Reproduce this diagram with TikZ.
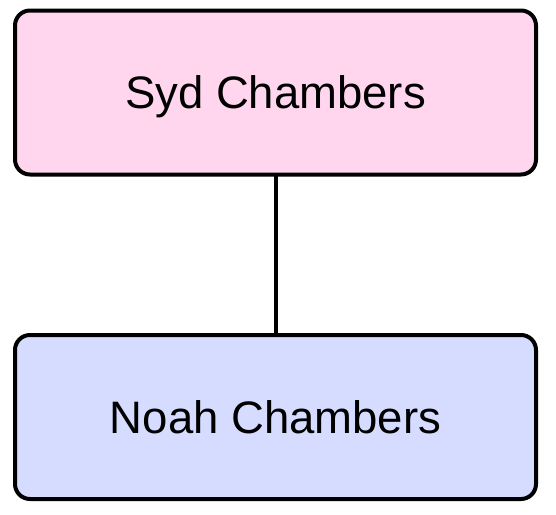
\documentclass[tikz,border=0pt]{standalone}
\usepackage{fontspec}
\setmainfont{Liberation Sans}
\definecolor{pinkfill}{RGB}{255,214,238}
\definecolor{bluefill}{RGB}{214,220,255}
\begin{document}
\begin{tikzpicture}[x=1pt,y=-1pt,
  person/.style={draw=black, line width=4pt, rounded corners=15pt,
    minimum width=521pt, minimum height=164pt, inner sep=0pt, outer sep=0pt,
    text height=32.6pt, text depth=0pt,
    font=\fontsize{45.5}{54}\selectfont},
  link/.style={draw=black, line width=4pt}]
\useasboundingbox (0,0) rectangle (556,514);
\node[person, fill=pinkfill] (syd) at (275.5,92.5) {Syd Chambers};
\node[person, fill=bluefill] (noah) at (275.5,417) {Noah Chambers};
\draw[link] (syd.south) -- (noah.north);
\end{tikzpicture}
\end{document}
